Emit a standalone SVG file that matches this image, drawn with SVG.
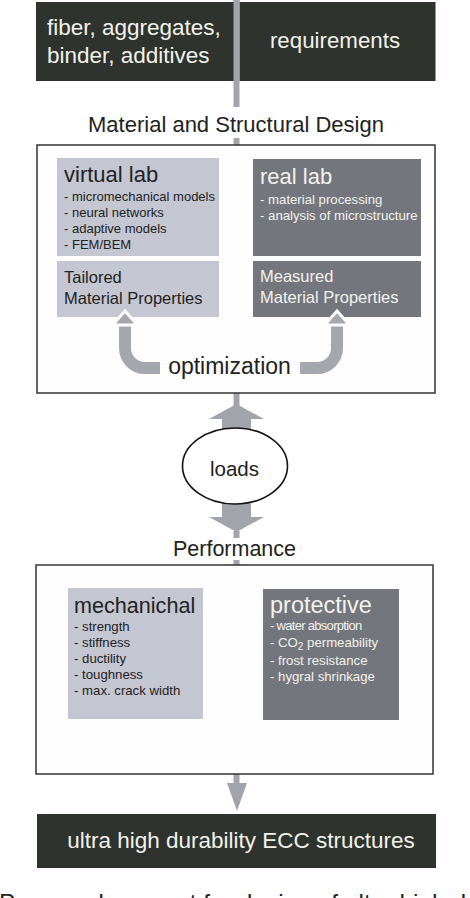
<svg xmlns="http://www.w3.org/2000/svg" width="470" height="898" viewBox="0 0 470 898">
<style>
text{font-family:"Liberation Sans",Arial,sans-serif}
.dark{fill:#2f332e}
.light{fill:#c4c6d1}
.mid{fill:#74767e}
.frame{fill:#fefefe;stroke:#333;stroke-width:1.5}
.bar{fill:#a2a4ac}
.wt{fill:#f2f2ec}
.bt{fill:#222}
.arr{fill:none;stroke:#a5a7af;stroke-width:12}
.head{fill:#a5a7af;stroke:#fff;stroke-width:3;stroke-linejoin:miter}
</style>
<rect width="470" height="898" fill="#fff"/>

<g id="connectors">
  <rect class="bar" x="233.5" y="0" width="6" height="107"/>
  <rect class="bar" x="233.5" y="138" width="6" height="7"/>
  <rect class="bar" x="233.5" y="393" width="6" height="13"/>
  <polygon class="bar" points="236.5,404 264,419 251,419 251,440 222,440 222,419 209,419"/>
  <polygon class="bar" points="222,495 251,495 251,517 264,517 236.5,532 209,517 222,517"/>
  <rect class="bar" x="233.5" y="531" width="6" height="7"/>
  <rect class="bar" x="233.5" y="560" width="6" height="5"/>
  <rect class="bar" x="233.5" y="774" width="6" height="10"/>
  <polygon class="bar" points="227,783 247,783 237,811"/>
</g>

<g id="inputs">
  <rect class="dark" x="36" y="2" width="199" height="79"/>
  <text class="wt" x="47" y="35" font-size="22.5">fiber, aggregates,</text>
  <text class="wt" x="47" y="63" font-size="22.5">binder, additives</text>
</g>
<g id="requirements">
  <rect class="dark" x="239.5" y="2" width="196" height="79"/>
  <text class="wt" x="335" y="48" font-size="22.3" text-anchor="middle">requirements</text>
</g>
<rect class="bar" x="233.5" y="0" width="6" height="81"/>

<g id="design-label">
  <text class="bt" x="236" y="132" font-size="22" text-anchor="middle">Material and Structural Design</text>
</g>

<g id="design">
  <rect class="frame" x="37" y="145" width="398" height="248"/>
</g>

<g id="virtual-lab">
  <rect class="light" x="57" y="158" width="162" height="98"/>
  <text class="bt" x="64" y="182" font-size="22">virtual lab</text>
  <text class="bt" font-size="13">
    <tspan x="64" y="200.5">- micromechanical models</tspan>
    <tspan x="64" y="216.5">- neural networks</tspan>
    <tspan x="64" y="232.5">- adaptive models</tspan>
    <tspan x="64" y="249">- FEM/BEM</tspan>
  </text>
</g>
<g id="tailored">
  <rect class="light" x="57" y="261" width="162" height="56"/>
  <text class="bt" font-size="16.5">
    <tspan x="64" y="283">Tailored</tspan>
    <tspan x="64" y="304">Material Properties</tspan>
  </text>
</g>
<g id="real-lab">
  <rect class="mid" x="253" y="159" width="168" height="97"/>
  <text class="wt" x="260" y="184" font-size="22">real lab</text>
  <text class="wt" font-size="13.2">
    <tspan x="260" y="204">- material processing</tspan>
    <tspan x="260" y="219.5">- analysis of microstructure</tspan>
  </text>
</g>
<g id="measured">
  <rect class="mid" x="253" y="261" width="168" height="56"/>
  <text class="wt" font-size="16.5">
    <tspan x="260" y="281.5">Measured</tspan>
    <tspan x="260" y="302.5">Material Properties</tspan>
  </text>
</g>

<g id="optimization">
  <path class="arr" d="M125,323 V348 A20,20 0 0 0 145,368 H160"/>
  <polygon class="head" points="112.5,325 137.5,325 125,311"/>
  <path class="arr" d="M300,368 H317 A20,20 0 0 0 337,348 V323"/>
  <polygon class="head" points="324.5,325 349.5,325 337,311"/>
  <text class="bt" x="229.5" y="374" font-size="23" text-anchor="middle">optimization</text>
</g>

<g id="loads">
  <ellipse cx="235" cy="466" rx="52.5" ry="38" fill="#fff" stroke="#111" stroke-width="1.6"/>
  <text class="bt" x="234.5" y="476" font-size="20.5" text-anchor="middle">loads</text>
</g>

<g id="performance-label">
  <text class="bt" x="234.5" y="556" font-size="21.5" text-anchor="middle">Performance</text>
</g>

<g id="performance">
  <rect class="frame" x="36" y="565" width="397" height="209"/>
</g>

<g id="mechanical">
  <rect class="light" x="68" y="588" width="135" height="131"/>
  <text class="bt" x="74" y="613" font-size="21.6">mechanichal</text>
  <text class="bt" font-size="13.2">
    <tspan x="74" y="631">- strength</tspan>
    <tspan x="74" y="647">- stiffness</tspan>
    <tspan x="74" y="663">- ductility</tspan>
    <tspan x="74" y="679">- toughness</tspan>
    <tspan x="74" y="695">- max. crack width</tspan>
  </text>
</g>

<g id="protective">
  <rect class="mid" x="263" y="589" width="136" height="131"/>
  <text class="wt" x="270" y="613" font-size="23.5">protective</text>
  <text class="wt" x="270" y="630" font-size="13" letter-spacing="-0.7">- water absorption</text>
  <text class="wt" font-size="13.2">
    <tspan x="270" y="647">- CO</tspan><tspan font-size="10" dy="3">2</tspan><tspan dy="-3"> permeability</tspan>
    <tspan x="270" y="665">- frost resistance</tspan>
    <tspan x="270" y="681">- hygral shrinkage</tspan>
  </text>
</g>

<g id="ecc-structures">
  <rect class="dark" x="37" y="814" width="399" height="54"/>
  <text class="wt" x="241" y="848" font-size="22.5" text-anchor="middle">ultra high durability ECC structures</text>
</g>

<g id="caption">
  <text class="bt" x="-1" y="911" font-size="24.5">Proposed concept for design of ultra high d</text>
</g>
</svg>
